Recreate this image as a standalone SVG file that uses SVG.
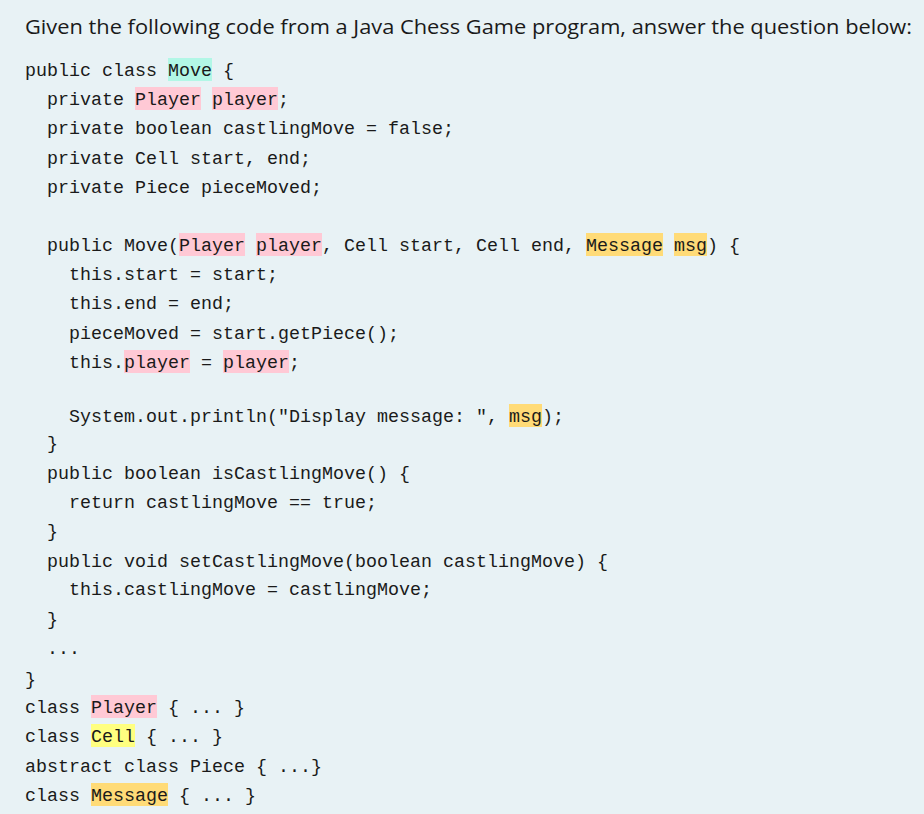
<svg xmlns="http://www.w3.org/2000/svg" width="924" height="814" viewBox="0 0 924 814">
<style>
.c{font-family:"Liberation Mono",monospace;font-size:18.33px;fill:#1a1a1a}
.t{font-family:"Open Sans","Liberation Sans",sans-serif;font-size:20px;fill:#1a1a1a}
.pk{fill:#ffc9d5}.tl{fill:#b2f7e6}.or{fill:#ffdb77}.ye{fill:#ffff80}
</style>
<rect width="924" height="814" fill="#e8f2f5"/>
<text class="t" x="25" y="34" textLength="887" lengthAdjust="spacingAndGlyphs">Given the following code from a Java Chess Game program, answer the question below:</text>
<g id="highlights">
<rect class="tl" x="168" y="58" width="44" height="23"/>
<rect class="pk" x="135" y="87" width="66" height="23"/>
<rect class="pk" x="212" y="87" width="66" height="23"/>
<rect class="pk" x="179" y="233" width="66" height="23"/>
<rect class="pk" x="256" y="233" width="66" height="23"/>
<rect class="or" x="586" y="233" width="77" height="23"/>
<rect class="or" x="674" y="233" width="33" height="23"/>
<rect class="pk" x="124" y="350" width="66" height="23"/>
<rect class="pk" x="223" y="350" width="66" height="23"/>
<rect class="or" x="509" y="404" width="33" height="23"/>
<rect class="pk" x="91" y="695" width="66" height="23"/>
<rect class="ye" x="91" y="724" width="44" height="23"/>
<rect class="or" x="91" y="783" width="77" height="23"/>
</g>
<g id="code" class="c" xml:space="preserve">
<text x="25" y="76">public class Move {</text>
<text x="47" y="105">private Player player;</text>
<text x="47" y="134">private boolean castlingMove = false;</text>
<text x="47" y="164">private Cell start, end;</text>
<text x="47" y="193">private Piece pieceMoved;</text>
<text x="47" y="251">public Move(Player player, Cell start, Cell end, Message msg) {</text>
<text x="69" y="280">this.start = start;</text>
<text x="69" y="309">this.end = end;</text>
<text x="69" y="339">pieceMoved = start.getPiece();</text>
<text x="69" y="368">this.player = player;</text>
<text x="69" y="422">System.out.println("Display message: ", msg);</text>
<text x="47" y="449">}</text>
<text x="47" y="479">public boolean isCastlingMove() {</text>
<text x="69" y="508">return castlingMove == true;</text>
<text x="47" y="537">}</text>
<text x="47" y="567">public void setCastlingMove(boolean castlingMove) {</text>
<text x="69" y="595">this.castlingMove = castlingMove;</text>
<text x="47" y="625">}</text>
<text x="47" y="654">...</text>
<text x="25" y="685">}</text>
<text x="25" y="713">class Player { ... }</text>
<text x="25" y="742">class Cell { ... }</text>
<text x="25" y="772">abstract class Piece { ...}</text>
<text x="25" y="801">class Message { ... }</text>
</g>
</svg>
